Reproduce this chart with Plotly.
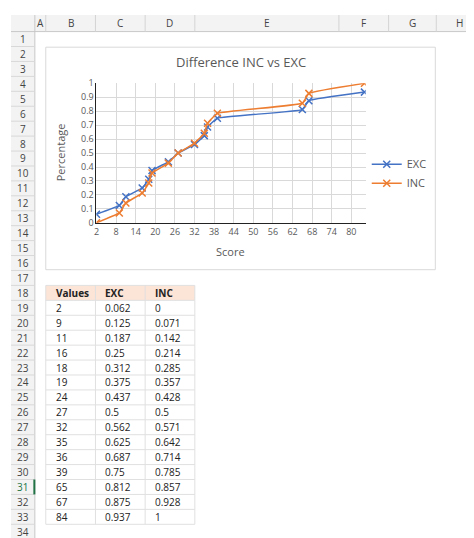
import plotly.graph_objects as go

values = [2, 9, 11, 16, 18, 19, 24, 27, 32, 35, 36, 39, 65, 67, 84]
exc = [0.062, 0.125, 0.187, 0.25, 0.312, 0.375, 0.437, 0.5, 0.562, 0.625, 0.687, 0.75, 0.812, 0.875, 0.937]
inc = [0, 0.071, 0.142, 0.214, 0.285, 0.357, 0.428, 0.5, 0.571, 0.642, 0.714, 0.785, 0.857, 0.928, 1]
x_ticks = list(range(2, 84, 6))
y_ticks = [0, 0.1, 0.2, 0.3, 0.4, 0.5, 0.6, 0.7, 0.8, 0.9, 1]
col_letters = ["A", "B", "C", "D", "E", "F", "G", "H"]
table_headers = ["Values", "EXC", "INC"]

W, H = 474, 538
def px(x): return x / W
def py(y): return 1 - y / H

col_edges = [24, 35, 85, 135, 185, 330, 380, 428, 474]
HDR = 17
RH = 15.3

shapes, ann = [], []
def text(x, y, t, size=10, color="#444", xa="center", **kw):
    ann.append(dict(x=px(x), y=py(y), xref="paper", yref="paper", text=t, showarrow=False,
                    xanchor=xa, yanchor="middle", font=dict(size=size, color=color), **kw))

shapes.append(dict(type="rect", xref="paper", yref="paper", x0=0, x1=1, y0=py(HDR), y1=1,
                   fillcolor="#f3f3f3", line=dict(width=0), layer="below"))
shapes.append(dict(type="rect", xref="paper", yref="paper", x0=0, x1=px(24), y0=0, y1=1,
                   fillcolor="#f3f3f3", line=dict(width=0), layer="below"))
shapes.append(dict(type="line", xref="paper", yref="paper", x0=0, x1=1, y0=py(HDR), y1=py(HDR),
                   line=dict(color="#c8c8c8", width=1)))
shapes.append(dict(type="line", xref="paper", yref="paper", x0=px(24), x1=px(24), y0=0, y1=1,
                   line=dict(color="#c8c8c8", width=1)))
for i, L in enumerate(col_letters):
    a, b = col_edges[i], col_edges[i + 1]
    shapes.append(dict(type="line", xref="paper", yref="paper", x0=px(b), x1=px(b), y0=py(HDR), y1=1,
                       line=dict(color="#d4d4d4", width=1)))
    text((a + b) / 2, HDR / 2, L)
for r in range(1, 35):
    top = HDR + (r - 1) * RH
    shapes.append(dict(type="line", xref="paper", yref="paper", x0=0, x1=px(24), y0=py(top + RH), y1=py(top + RH),
                       line=dict(color="#d8d8d8", width=1)))
    text(12, top + RH / 2, str(r), color="#217346" if r == 31 else "#444")
r31 = HDR + 30 * RH
shapes.append(dict(type="line", xref="paper", yref="paper", x0=px(23.5), x1=px(23.5), y0=py(r31 + RH), y1=py(r31),
                   line=dict(color="#217346", width=2)))

# chart box
shapes.append(dict(type="rect", xref="paper", yref="paper", x0=px(35), x1=px(427), y0=py(261), y1=py(33),
                   fillcolor="white", line=dict(color="#d9d9d9", width=1), layer="below"))

# table
t_top = HDR + 17 * RH
cols_tbl = [35, 85, 135, 185]
shapes.append(dict(type="rect", xref="paper", yref="paper", x0=px(35), x1=px(185), y0=py(t_top + RH), y1=py(t_top),
                   fillcolor="#fce4d6", line=dict(width=0), layer="below"))
for k in range(17):
    yy = t_top + k * RH
    shapes.append(dict(type="line", xref="paper", yref="paper", x0=px(35), x1=px(185), y0=py(yy), y1=py(yy),
                       line=dict(color="#e0e0e0", width=1)))
for c in cols_tbl:
    shapes.append(dict(type="line", xref="paper", yref="paper", x0=px(c), x1=px(c), y0=py(t_top + 16 * RH), y1=py(t_top),
                       line=dict(color="#e0e0e0", width=1)))
for j, h in enumerate(table_headers):
    text(cols_tbl[j] + 8, t_top + RH / 2, "<b>%s</b>" % h, color="#222", xa="left")
for k, row in enumerate(zip(values, exc, inc)):
    yy = t_top + (k + 1) * RH + RH / 2
    for j, v in enumerate(row):
        text(cols_tbl[j] + 8, yy, str(v), color="#222", xa="left")

# chart texts
text(231, 48, "Difference INC vs EXC", size=13, color="#595959")
text(50, 141, "Percentage", size=11, color="#595959", textangle=-90)
text(221, 242, "Score", size=11, color="#595959")

fig = go.Figure()
for name, ys, col in [("EXC", exc, "#4472C4"), ("INC", inc, "#ED7D31")]:
    fig.add_trace(go.Scatter(x=values, y=ys, name=name, mode="lines+markers",
                             line=dict(color=col, width=1.5, shape="spline", smoothing=0.3),
                             marker=dict(symbol="x-thin-open", size=7, line=dict(color=col, width=1.5))))
fig.update_layout(
    width=W, height=H, margin=dict(l=0, r=0, t=0, b=0), paper_bgcolor="white", plot_bgcolor="white",
    font=dict(family="Open Sans, Liberation Sans, sans-serif"),
    shapes=shapes, annotations=ann,
    xaxis=dict(domain=[px(86), px(357)], range=[2, 84.4], tickvals=x_ticks, showgrid=True, gridcolor="#d9d9d9",
               showline=True, linecolor="#222", zeroline=False, tickfont=dict(size=9, color="#595959"), ticks=""),
    yaxis=dict(domain=[py(213), py(70)], range=[0, 1], tickvals=y_ticks, showgrid=True, gridcolor="#d9d9d9",
               showline=True, linecolor="#222", zeroline=False, tickfont=dict(size=9, color="#595959"), ticks=""),
    legend=dict(x=px(358), y=py(138), xanchor="left", yanchor="top", bgcolor="rgba(0,0,0,0)",
                font=dict(size=11, color="#595959"), tracegroupgap=8),
)
fig.write_html("out.html")
